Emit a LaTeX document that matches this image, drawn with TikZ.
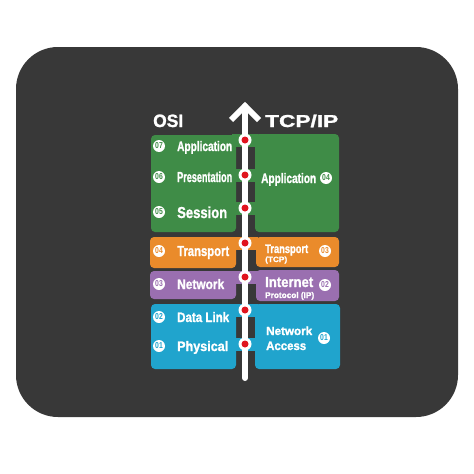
\documentclass[tikz,border=0pt]{standalone}
\usepackage{fontspec}
\setmainfont{Liberation Sans}
\newfontfamily\labfont{Liberation Sans}[BoldFeatures={FakeBold=1.4}]
\newfontfamily\digfont{Liberation Sans}
\usepackage{graphicx}
\newcommand\lbl[3]{\resizebox{#1pt}{#2pt}{\labfont\bfseries #3}}
\definecolor{padgray}{HTML}{383838}
\definecolor{osigreen}{HTML}{3F8C47}
\definecolor{osiorange}{HTML}{EA8B2B}
\definecolor{osipurple}{HTML}{9A6FB0}
\definecolor{osiblue}{HTML}{20A4CD}
\definecolor{dotred}{HTML}{E0141E}
\begin{document}
\begin{tikzpicture}[x=1pt,y=-1pt,
  layerbox/.style={rounded corners=4pt},
  numc/.style={circle, fill=white, minimum size=12pt, inner sep=0pt},
  txt/.style={anchor=base west, inner sep=0pt, text=white},
  head/.style={anchor=base west, inner sep=0pt, text=white},
  dotw/.style={circle, fill=white, minimum size=13pt, inner sep=0pt},
  dotr/.style={circle, fill=dotred, minimum size=7pt, inner sep=0pt}]
\newcommand\dig[1]{\resizebox{7.6pt}{6pt}{\digfont\bfseries #1}}
\useasboundingbox (0,0) rectangle (474,474);
\fill[white] (0,0) rectangle (474,474);
% mouse pad
\fill[padgray, rounded corners=42pt] (16,47) rectangle (458,417);

% boxes
\fill[osigreen, layerbox] (151,135) rectangle (236,232);
\fill[osigreen, layerbox] (255,134) rectangle (339,232);
\fill[osiorange, layerbox] (150,237) rectangle (236,268);
\fill[osiorange, layerbox] (256,237) rectangle (339,267);
\fill[osipurple, layerbox] (150,271) rectangle (236,299);
\fill[osipurple, layerbox] (256,270) rectangle (339,301);
\fill[osiblue, layerbox] (151,304) rectangle (236,369);
\fill[osiblue, layerbox] (255,304) rectangle (340,369);

% tabs joining boxes to the axis
\foreach \yy/\cc in {140/osigreen,175/osigreen,208/osigreen,243/osiorange,277/osipurple,310/osiblue,344/osiblue}{
  \fill[\cc] (232,\yy-6.5) rectangle (258,\yy+6.5);
}

% axis arrow
\coordinate (axbot) at (245,378);
\coordinate (axtop) at (245,106);
\coordinate (wl) at (231,120);
\coordinate (wr) at (259,120);
\draw[white, line width=6pt, line cap=round] (axbot) -- (axtop);
\draw[white, line width=6pt, line join=miter] (wl) -- (axtop) -- (wr);

% dots
\foreach \yy [count=\i] in {140,175,208,243,277,310,344}{
  \node[dotw] (dw\i) at (245,\yy) {};
  \node[dotr] (dr\i) at (245,\yy) {};
}

% headings
\node[head] (osi) at (153,127) {\resizebox{30pt}{12.5pt}{\labfont\bfseries OSI}};
\node[head] (tcpip) at (265,127) {\resizebox{73pt}{12.5pt}{\labfont\bfseries TCP/IP}};

% left labels
\node[numc, text=osigreen] (n7) at (159,146) {\dig{07}};
\node[txt] (l7) at (177,151) {\lbl{55}{10}{Application}};
\node[numc, text=osigreen] (n6) at (159,177) {\dig{06}};
\node[txt] (l6) at (177,182) {\lbl{55}{10.5}{Presentation}};
\node[numc, text=osigreen] (n5) at (159,212) {\dig{05}};
\node[txt] (l5) at (177,218) {\lbl{50}{11.5}{Session}};
\node[numc, text=osiorange] (n4) at (159,251) {\dig{04}};
\node[txt] (l4) at (177,256) {\lbl{52}{10}{Transport}};
\node[numc, text=osipurple] (n3) at (159,284) {\dig{03}};
\node[txt] (l3) at (177,289) {\lbl{47}{10}{Network}};
\node[numc, text=osiblue] (n2) at (159,317) {\dig{02}};
\node[txt] (l2) at (177,322) {\lbl{52}{10}{Data Link}};
\node[numc, text=osiblue] (n1) at (159,346) {\dig{01}};
\node[txt] (l1) at (177,351) {\lbl{51}{10}{Physical}};

% right labels
\node[txt] (r4) at (261,183) {\lbl{55}{10}{Application}};
\node[numc, text=osigreen] (m4) at (326,178) {\dig{04}};
\node[txt] (r3) at (265,253) {\lbl{43}{8.5}{Transport}};
\node[txt] (r3b) at (265,262) {\lbl{22}{5.5}{(TCP)}};
\node[numc, text=osiorange] (m3) at (325,251) {\dig{03}};
\node[txt] (r2) at (265,287) {\lbl{48}{10}{Internet}};
\node[txt] (r2b) at (265,298) {\lbl{49}{6}{Protocol (IP)}};
\node[numc, text=osipurple] (m2) at (325,285) {\dig{02}};
\node[txt] (r1) at (266,335) {\lbl{46}{8.5}{Network}};
\node[txt] (r1b) at (266,350) {\lbl{40}{8.5}{Access}};
\node[numc, text=osiblue] (m1) at (324,338) {\dig{01}};
\end{tikzpicture}
\end{document}
